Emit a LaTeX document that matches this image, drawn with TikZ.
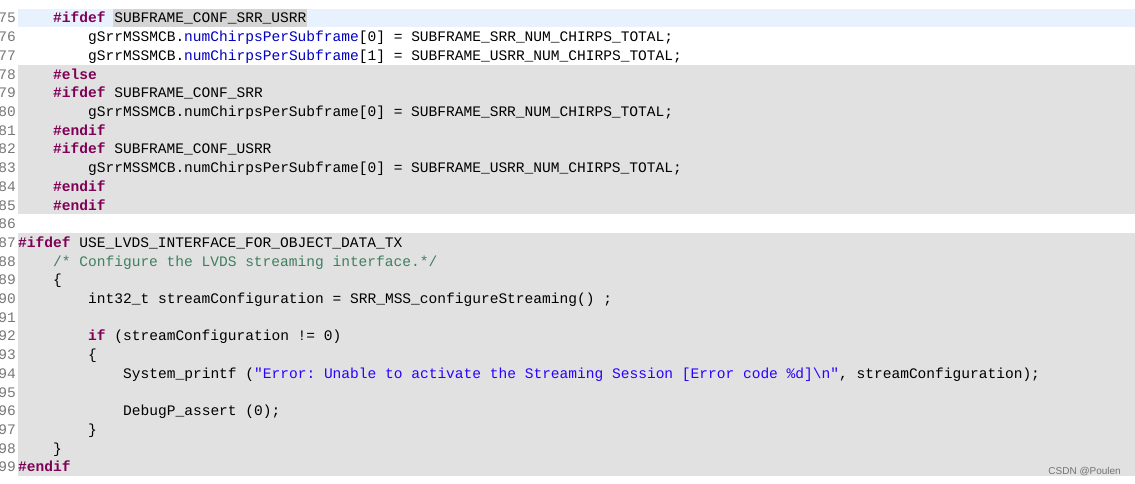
\documentclass[tikz,border=0pt]{standalone}
\usepackage{fontspec}
\setmonofont{Liberation Mono}
\setsansfont{Liberation Sans}
\definecolor{kw}{HTML}{7F0055}
\definecolor{fld}{HTML}{0000C0}
\definecolor{cmt}{HTML}{3F7F5F}
\definecolor{str}{HTML}{2A00FF}
\definecolor{lnum}{HTML}{787878}
\definecolor{band}{HTML}{E1E1E1}
\definecolor{cur}{HTML}{E8F2FE}
\newcommand{\kw}[1]{\textcolor{kw}{\bfseries #1}}
\newcommand{\fl}[1]{\textcolor{fld}{#1}}
\tikzset{code/.style={anchor=base west,inner sep=0pt,font=\ttfamily\fontsize{14.55}{16}\selectfont,text=black},
 ln/.style={anchor=base east,inner sep=0pt,font=\ttfamily\fontsize{14.55}{16}\selectfont,text=lnum}}
\begin{document}
\begin{tikzpicture}[x=1pt,y=-1pt]
\useasboundingbox (0,0) rectangle (1135,484);
\clip (0,0) rectangle (1135,484);
\fill[white] (0,0) rectangle (1135,484);
\fill[cur] (18,8.6) rectangle (1135,27.4);
\fill[band] (18,64.7) rectangle (1135,214.4);
\fill[band] (18,233) rectangle (1135,476);
\fill[black!17] (113,9) rectangle (307,27);
\foreach \n in {75,...,99}{
  \node[ln] (n\n) at (16,{18+(\n-75)*18.7+5}) {\n};
}
\def\Y#1{{18+(#1-75)*18.7+5}}
\node[code] (l75) at (53,\Y{75}) {\kw{\#ifdef} SUBFRAME\_CONF\_SRR\_USRR};
\node[code] (l76) at (88,\Y{76}) {gSrrMSSMCB.\fl{numChirpsPerSubframe}[0] = SUBFRAME\_SRR\_NUM\_CHIRPS\_TOTAL;};
\node[code] (l77) at (88,\Y{77}) {gSrrMSSMCB.\fl{numChirpsPerSubframe}[1] = SUBFRAME\_USRR\_NUM\_CHIRPS\_TOTAL;};
\node[code] (l78) at (53,\Y{78}) {\kw{\#else}};
\node[code] (l79) at (53,\Y{79}) {\kw{\#ifdef} SUBFRAME\_CONF\_SRR};
\node[code] (l80) at (88,\Y{80}) {gSrrMSSMCB.numChirpsPerSubframe[0] = SUBFRAME\_SRR\_NUM\_CHIRPS\_TOTAL;};
\node[code] (l81) at (53,\Y{81}) {\kw{\#endif}};
\node[code] (l82) at (53,\Y{82}) {\kw{\#ifdef} SUBFRAME\_CONF\_USRR};
\node[code] (l83) at (88,\Y{83}) {gSrrMSSMCB.numChirpsPerSubframe[0] = SUBFRAME\_USRR\_NUM\_CHIRPS\_TOTAL;};
\node[code] (l84) at (53,\Y{84}) {\kw{\#endif}};
\node[code] (l85) at (53,\Y{85}) {\kw{\#endif}};
\node[code] (l87) at (18,\Y{87}) {\kw{\#ifdef} USE\_LVDS\_INTERFACE\_FOR\_OBJECT\_DATA\_TX};
\node[code] (l88) at (53,\Y{88}) {\textcolor{cmt}{/* Configure the LVDS streaming interface.*/}};
\node[code] (l89) at (53,\Y{89}) {\{};
\node[code] (l90) at (88,\Y{90}) {int32\_t streamConfiguration = SRR\_MSS\_configureStreaming() ;};
\node[code] (l92) at (88,\Y{92}) {\kw{if} (streamConfiguration != 0)};
\node[code] (l93) at (88,\Y{93}) {\{};
\node[code] (l94) at (123,\Y{94}) {System\_printf (\textcolor{str}{"Error: Unable to activate the Streaming Session [Error code \%d]\textbackslash n"}, streamConfiguration);};
\node[code] (l96) at (123,\Y{96}) {DebugP\_assert (0);};
\node[code] (l97) at (88,\Y{97}) {\}};
\node[code] (l98) at (53,\Y{98}) {\}};
\node[code] (l99) at (18,\Y{99}) {\kw{\#endif}};
\node[anchor=base east,inner sep=0pt,font=\sffamily\fontsize{10}{12}\selectfont,text=black!55] (wm) at (1121,474) {CSDN @Poulen};
\end{tikzpicture}
\end{document}
